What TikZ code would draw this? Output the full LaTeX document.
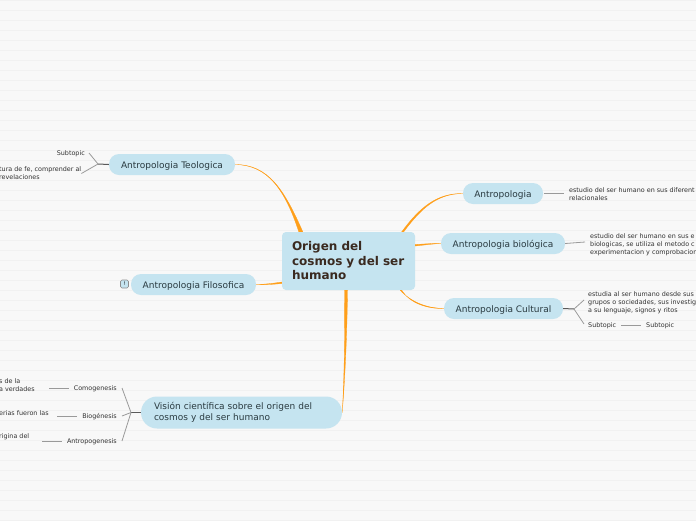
\documentclass[tikz,border=0pt]{standalone}
\usepackage{fontspec}
\setmainfont{DejaVu Sans}
\usetikzlibrary{calc,positioning}
\definecolor{paper}{HTML}{F8F8F8}
\definecolor{ruled}{HTML}{F1F1F1}
\definecolor{topicblue}{HTML}{C5E4F0}
\definecolor{rootink}{HTML}{3A2A20}
\definecolor{topicink}{HTML}{2A3A40}
\definecolor{branch}{HTML}{FF9F1A}
\definecolor{twig}{HTML}{9A9A9A}
\begin{document}
\begin{tikzpicture}[x=1pt, y=-1pt,
    root/.style={rectangle, fill=topicblue, rounded corners=4pt, text=rootink, font=\fontsize{12}{14.5}\selectfont\bfseries, align=left, minimum width=133pt, minimum height=58pt, text width=113pt, inner sep=0pt},
    topic/.style={rectangle, fill=topicblue, rounded corners=10pt, text=topicink, font=\fontsize{9}{11}\selectfont, minimum height=21pt, inner sep=0pt, text height=8.5pt, text depth=1pt},
    leaf/.style={font=\fontsize{6.4}{8.2}\selectfont, text=black!80, align=left, inner sep=0pt},
    bough/.style={draw=branch, fill=branch, line width=.3pt, line join=round},
    stem/.style={draw=black!65, line width=1pt},
    twigline/.style={draw=twig, line width=.8pt}]
    \useasboundingbox (0,0) rectangle (696,520);
    \clip (0,0) rectangle (696,520);
    \fill[paper] (0,0) rectangle (696,520);
    \foreach \y in {0,10,...,520} \draw[ruled, line width=.7pt] (0,\y) -- (696,\y);

    \node[root] (origen) at (348.5,261) {\raisebox{-1pt}{Origen del}\\\raisebox{-1pt}{cosmos y del ser}\\\raisebox{-1pt}{humano}};
    \node[topic, minimum width=126pt] (teologica) at (172,164.5) {Antropologia Teologica};
    \node[topic, minimum width=125pt] (filosofica) at (193.5,284.5) {Antropologia Filosofica};
    \node[topic, minimum width=201pt, minimum height=32pt, rounded corners=16pt, align=left, text width=175pt, text height=7.5pt, text depth=13pt] (vision) at (241.5,412.5) {Visión científica sobre el origen del\\cosmos y del ser humano};
    \node[topic, minimum width=80pt] (antropologia) at (503,193.5) {Antropologia};
    \node[topic, minimum width=124pt] (biologica) at (503,243.5) {Antropologia biológica};
    \node[topic, minimum width=119pt] (cultural) at (503.5,308.5) {Antropologia Cultural};

    \node[draw=black!45, fill=topicblue, rounded corners=1.5pt, minimum size=8pt, inner sep=0pt, font=\fontsize{5}{5}\selectfont, line width=.6pt] (aviso) at (124.5,284) {!};

    % leaves on the left
    \node[leaf, anchor=east] (subteo) at (85,154) {Subtopic};
    \node[leaf, anchor=west] (fe) at (-1,173.5) {tura de fe, comprender al\\revelaciones};
    \node[leaf, anchor=east] (como) at (117,389) {Comogenesis};
    \node[leaf, anchor=east] (bio) at (117,417) {Biogénesis};
    \node[leaf, anchor=east] (antropo) at (117,442) {Antropogenesis};
    \node[leaf, anchor=west] (verdades) at (-1,385) {s de la\\a verdades};
    \node[leaf, anchor=west] (fueron) at (-1,413) {erias fueron las};
    \node[leaf, anchor=west] (del) at (-1,437) {rigina del};

    % leaves on the right
    \node[leaf, anchor=west] (difer) at (569,194) {estudio del ser humano en sus diferent\\relacionales};
    \node[leaf, anchor=west] (metodo) at (590,244.5) {estudio del ser humano en sus e\\biologicas, se utiliza el metodo c\\experimentacion y comprobacion};
    \node[leaf, anchor=west] (grupos) at (588,302.5) {estudia al ser humano desde sus\\grupos o sociedades, sus investig\\a su lenguaje, signos y ritos};
    \node[leaf, anchor=west] (subcul) at (588,326) {Subtopic};
    \node[leaf, anchor=west] (subsub) at (646,326) {Subtopic};

    \coordinate (forkteo) at (98,164);
    \coordinate (forkvis) at (131,412.5);
    \coordinate (forkcul) at (574,309);

    % branches from the root
    \draw[bough] ($(origen.north west)+(17,0)$) .. controls (285,190) and (268,165) .. (teologica.east) .. controls (268,164.5) and (284,189) .. ($(origen.north west)+(21,0)$) -- cycle;
    \draw[bough] ($(origen.west)+(0,21)$) .. controls (272,283.5) and (265,284.3) .. (filosofica.east) .. controls (265,284.8) and (272,284.5) .. ($(origen.west)+(0,22.5)$) -- cycle;
    \draw[bough] ($(origen.south)+(-4,0)$) .. controls (345,340) and (344,385) .. (vision.east) .. controls (344.5,385) and (347,340) .. ($(origen.south)+(-1,0)$) -- cycle;
    \draw[bough] ($(origen.north east)+(-13.5,0)$) .. controls (420,207) and (437,193.2) .. (antropologia.west) .. controls (437,193.8) and (421.5,208) .. ($(origen.north east)+(-11.5,0)$) -- cycle;
    \draw[bough] ($(origen.east)+(0,-16.5)$) .. controls (425,244) and (433,243.2) .. (biologica.west) .. controls (433,243.8) and (425,245) .. ($(origen.east)+(0,-15)$) -- cycle;
    \draw[bough] ($(origen.south east)+(-15,0)$) .. controls (412,303) and (428,308.2) .. (cultural.west) .. controls (428,308.8) and (410.5,304) .. ($(origen.south east)+(-13.5,0)$) -- cycle;

    % twigs
    \draw[stem] (teologica.west) -- (forkteo);
    \draw[twigline] (forkteo) -- ($(subteo.east)+(4,-1)$);
    \draw[twigline] (forkteo) -- (fe.east);
    \draw[stem] (vision.west) -- (forkvis);
    \draw[twigline] (forkvis) -- ($(como.east)+(5,-1)$);
    \draw[twigline] (forkvis) -- ($(bio.east)+(5,-1)$);
    \draw[twigline] (forkvis) -- ($(antropo.east)+(5,-1)$);
    \draw[twigline] (como.west) ++(-5,-1) -- ++(-20,0);
    \draw[twigline] (bio.west) ++(-5,-1) -- ++(-20,0);
    \draw[twigline] (antropo.west) ++(-5,-1) -- ++(-20,0);
    \draw[twigline] (antropologia.east) ++(1,0) -- ++(20,0);
    \draw[twigline] (biologica.east) -- (585,242);
    \draw[stem] (cultural.east) -- (forkcul);
    \draw[twigline] (forkcul) -- (584,300);
    \draw[twigline] (forkcul) -- (584,324);
    \draw[twigline] (subcul.east) ++(5,-1) -- ++(20,0);
\end{tikzpicture}
\end{document}
